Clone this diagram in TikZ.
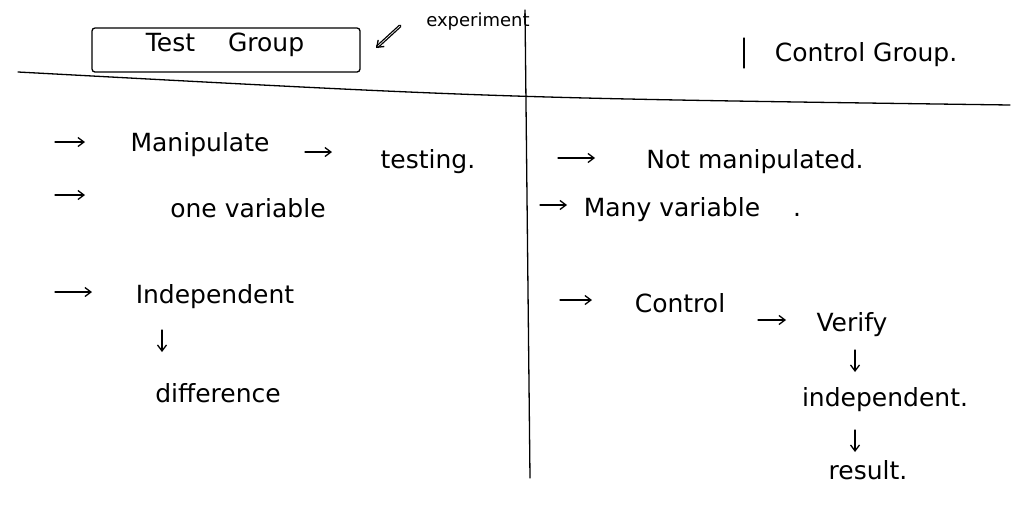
\documentclass[tikz,border=0pt]{standalone}
\usepackage{fontspec}
\setmainfont{DejaVu Sans}
\usetikzlibrary{arrows.meta}
\begin{document}
\begin{tikzpicture}[x=1pt,y=-1pt,
  hw/.style={font=\fontsize{25}{30}\selectfont,inner sep=0pt},
  sm/.style={font=\fontsize{18}{22}\selectfont,inner sep=0pt},
  ink/.style={line width=1.3pt,line cap=round},
  arr/.style={ink,-{Straight Barb[length=6pt,width=9pt]}}]
\useasboundingbox (0,0) rectangle (1024,512);
\fill[white] (0,0) rectangle (1024,512);
% header
\node[hw] (test) at (225,45) {Test \quad Group};
\draw[ink,rounded corners=3pt] (92,28) rectangle (360,72);
\node[sm] (exp) at (478,22) {experiment};
\coordinate (ea) at (400,26);
\coordinate (eb) at (376,48);
\draw[arr,double] (ea) -- (eb);
\node[hw] (ctrl) at (866,55) {Control Group.};
\draw[ink] (744,38) -- (744,68);
% axes
\coordinate (h1) at (18,72); \coordinate (h2) at (1010,105);
\draw[ink] (h1) .. controls (500,98) .. (h2);
\coordinate (v1) at (525,10); \coordinate (v2) at (530,478);
\draw[ink] (v1) -- (v2);
% left column
\coordinate (a1s) at (55,142); \coordinate (a1e) at (85,142);
\draw[arr] (a1s) -- (a1e);
\node[hw] (manip) at (200,145) {Manipulate};
\coordinate (a2s) at (305,152); \coordinate (a2e) at (332,152);
\draw[arr] (a2s) -- (a2e);
\node[hw] (testing) at (428,162) {testing.};
\coordinate (a3s) at (55,195); \coordinate (a3e) at (85,195);
\draw[arr] (a3s) -- (a3e);
\node[hw] (one) at (248,208) {one variable};
\coordinate (a4s) at (55,292); \coordinate (a4e) at (92,292);
\draw[arr] (a4s) -- (a4e);
\node[hw] (indep) at (215,297) {Independent};
\coordinate (d1s) at (162,330); \coordinate (d1e) at (162,352);
\draw[arr] (d1s) -- (d1e);
\node[hw] (diff) at (218,393) {difference};
% right column
\coordinate (b1s) at (558,158); \coordinate (b1e) at (595,158);
\draw[arr] (b1s) -- (b1e);
\node[hw] (notm) at (755,162) {Not manipulated.};
\coordinate (b2s) at (540,205); \coordinate (b2e) at (567,205);
\draw[arr] (b2s) -- (b2e);
\node[hw] (many) at (672,210) {Many variable};
\node[hw] (dot) at (797,215) {.};
\coordinate (b3s) at (560,300); \coordinate (b3e) at (592,300);
\draw[arr] (b3s) -- (b3e);
\node[hw] (control) at (680,303) {Control};
\coordinate (b4s) at (758,320); \coordinate (b4e) at (786,320);
\draw[arr] (b4s) -- (b4e);
\node[hw] (verify) at (852,325) {Verify};
\coordinate (d2s) at (855,350); \coordinate (d2e) at (855,372);
\draw[arr] (d2s) -- (d2e);
\node[hw] (ind2) at (885,400) {independent.};
\coordinate (d3s) at (855,430); \coordinate (d3e) at (855,452);
\draw[arr] (d3s) -- (d3e);
\node[hw] (res) at (868,470) {result.};
\end{tikzpicture}
\end{document}
